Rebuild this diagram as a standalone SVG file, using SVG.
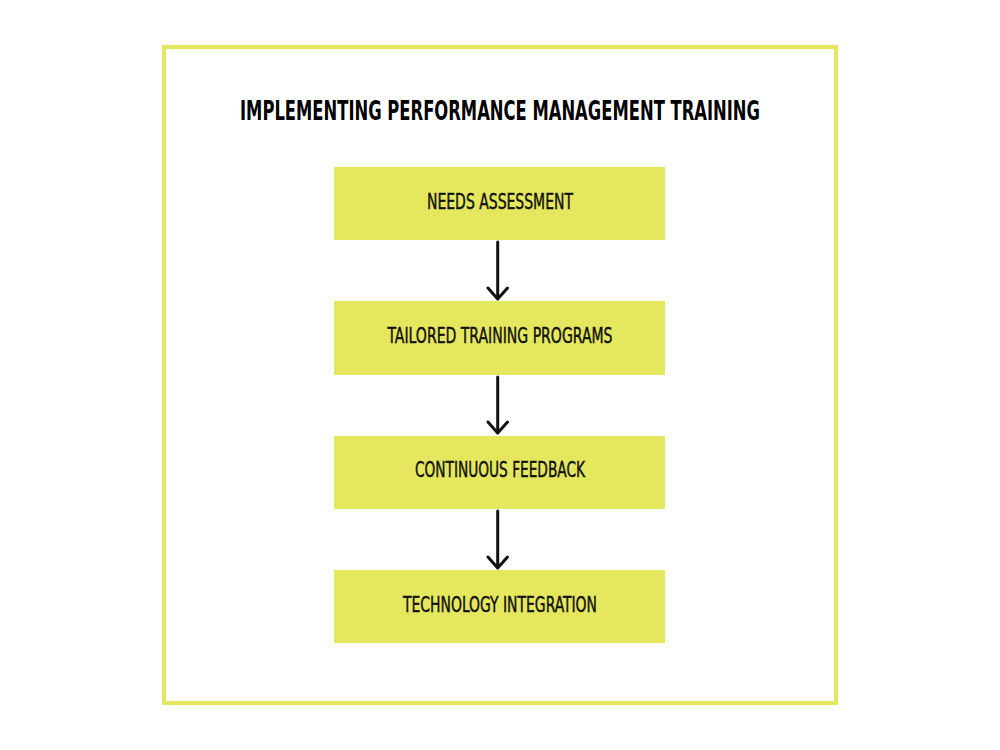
<svg xmlns="http://www.w3.org/2000/svg" width="1000" height="750" viewBox="0 0 1000 750">
  <defs>
    <style>
      .box { fill: #e5e85e; }
      .lbl { font-family: "DejaVu Sans Condensed", "Liberation Sans Narrow", "Liberation Sans", sans-serif; font-weight: normal; font-size: 21.5px; fill: #111111; stroke: #111111; stroke-width: 0.45; text-anchor: middle; }
      .title { font-family: "DejaVu Sans Condensed", "Liberation Sans Narrow", "Liberation Sans", sans-serif; font-weight: bold; font-size: 26.5px; fill: #000000; text-anchor: middle; }
      .conn { fill: none; stroke: #111111; stroke-width: 3; stroke-linecap: round; stroke-linejoin: round; }
    </style>
  </defs>
  <rect x="0" y="0" width="1000" height="750" fill="#ffffff"/>
  <rect id="frame" x="164" y="47" width="672" height="656" fill="none" stroke="#e5e85e" stroke-width="4"/>
  <text id="title" class="title" x="500" y="120" textLength="520" lengthAdjust="spacingAndGlyphs">IMPLEMENTING PERFORMANCE MANAGEMENT TRAINING</text>
  <g id="node1">
    <rect class="box" x="334" y="167" width="331" height="73"/>
    <text class="lbl" x="500" y="208.5" textLength="146" lengthAdjust="spacingAndGlyphs">NEEDS ASSESSMENT</text>
  </g>
  <g id="node2">
    <rect class="box" x="334" y="301" width="331" height="74"/>
    <text class="lbl" x="500" y="342.5" textLength="225" lengthAdjust="spacingAndGlyphs">TAILORED TRAINING PROGRAMS</text>
  </g>
  <g id="node3">
    <rect class="box" x="334" y="436" width="331" height="73"/>
    <text class="lbl" x="500" y="477" textLength="170" lengthAdjust="spacingAndGlyphs">CONTINUOUS FEEDBACK</text>
  </g>
  <g id="node4">
    <rect class="box" x="334" y="570" width="331" height="73"/>
    <text class="lbl" x="500" y="612" textLength="194" lengthAdjust="spacingAndGlyphs">TECHNOLOGY INTEGRATION</text>
  </g>
  <g id="connectors">
    <path class="conn" d="M497.7 242 V299 M488 288 L497.7 299 L507.5 288"/>
    <path class="conn" d="M497.7 377 V433 M488 422 L497.7 433 L507.5 422"/>
    <path class="conn" d="M497.7 511 V568 M488 557 L497.7 568 L507.5 557"/>
  </g>
</svg>
